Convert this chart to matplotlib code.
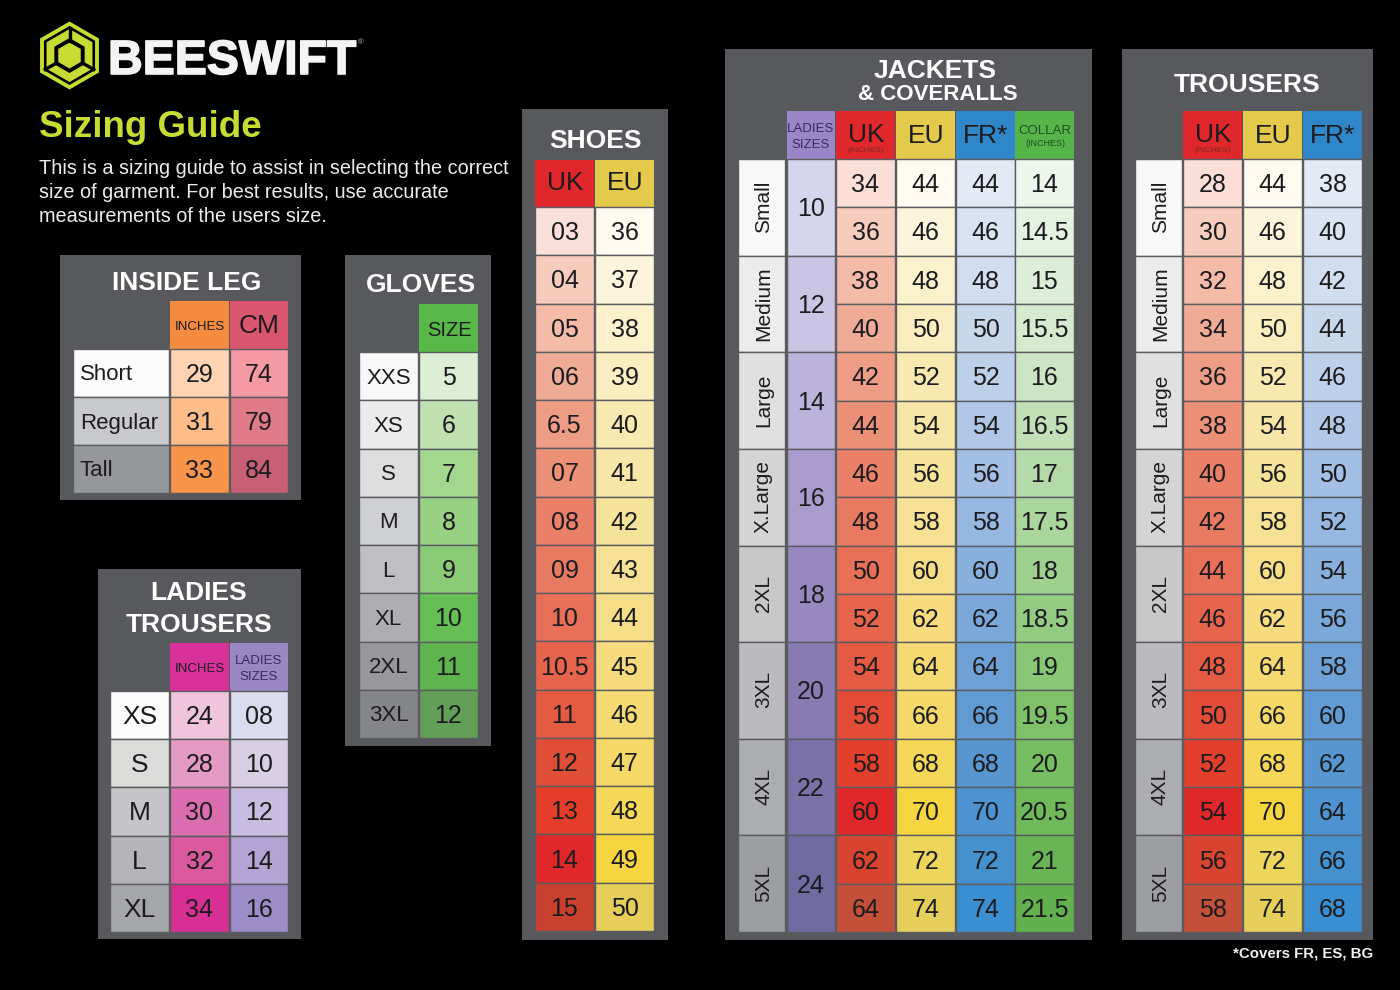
"""
plot.py
-------
Beeswift sizing guide, drawn as coloured tables on a pixel-sized axes.
"""
import numpy as np
import matplotlib
matplotlib.use("Agg")
import matplotlib.pyplot as plt
from matplotlib.colors import to_rgb, to_hex
from matplotlib.patches import Rectangle, Polygon
import matplotlib.patheffects as pe

plt.rcParams["font.family"] = ["Liberation Sans", "DejaVu Sans"]

# === Table contents ===
leg_labels = ["Short", "Regular", "Tall"]
leg_inches = ["29", "31", "33"]
leg_cm = ["74", "79", "84"]

glove_labels = ["XXS", "XS", "S", "M", "L", "XL", "2XL", "3XL"]
glove_sizes = ["5", "6", "7", "8", "9", "10", "11", "12"]

shoe_uk = ["03", "04", "05", "06", "6.5", "07", "08", "09", "10", "10.5", "11", "12", "13", "14", "15"]
shoe_eu = ["36", "37", "38", "39", "40", "41", "42", "43", "44", "45", "46", "47", "48", "49", "50"]

ladies_labels = ["XS", "S", "M", "L", "XL"]
ladies_inches = ["24", "28", "30", "32", "34"]
ladies_sizes = ["08", "10", "12", "14", "16"]

garment_labels = ["Small", "Medium", "Large", "X.Large", "2XL", "3XL", "4XL", "5XL"]
jacket_ladies = ["10", "12", "14", "16", "18", "20", "22", "24"]
jacket_uk = ["34", "36", "38", "40", "42", "44", "46", "48", "50", "52", "54", "56", "58", "60", "62", "64"]
jacket_eu = ["44", "46", "48", "50", "52", "54", "56", "58", "60", "62", "64", "66", "68", "70", "72", "74"]
jacket_fr = jacket_eu
jacket_collar = ["14", "14.5", "15", "15.5", "16", "16.5", "17", "17.5", "18", "18.5", "19", "19.5", "20", "20.5", "21", "21.5"]

trouser_uk = ["28", "30", "32", "34", "36", "38", "40", "42", "44", "46", "48", "50", "52", "54", "56", "58"]
trouser_eu = jacket_eu
trouser_fr = ["38", "40", "42", "44", "46", "48", "50", "52", "54", "56", "58", "60", "62", "64", "66", "68"]

body_lines = [
    "This is a sizing guide to assist in selecting the correct",
    "size of garment. For best results, use accurate",
    "measurements of the users size.",
]

# === Colours ===
BACK = "#000000"
PANEL = "#57595c"
LINE = "#5a5c60"
LIME = "#c8db33"
INK = "#1c1c1e"

SHOE_REDS = ["#fbe0da", "#f6ccbc", "#f3bba8", "#f0ab97", "#ee9c85", "#ec9078", "#ea8068", "#e87a62",
             "#e87058", "#e6654c", "#e45a42", "#e04e38", "#e43e2a", "#e0282a", "#c9402f"]
SHOE_YELLOWS = ["#fffbf0", "#fcf5dc", "#fbf1cd", "#faedc0", "#f8e9b0", "#f8e6a8", "#f6e39a", "#f6e194",
                "#f6de88", "#f6dc7e", "#f5da72", "#f5d968", "#f5d858", "#f5d640", "#e5ce5a"]
ROW_REDS = ["#fbdfd6", "#f6ccbc", "#f3bba8", "#f0ab97", "#ee9c85", "#ec9078", "#ea8068", "#e87a62",
            "#e87058", "#e6654c", "#e45a42", "#e34c36", "#e2402c", "#e0282a", "#d94430", "#c5503a"]
ROW_YELLOWS = ["#fffbf0", "#fcf5dc", "#fbf1cd", "#faedc0", "#f8e9b0", "#f8e6a8", "#f6e39a", "#f6e194",
               "#f6de88", "#f6dc7e", "#f5da72", "#f5d968", "#f5d858", "#f5d640", "#ecd75c", "#e5ce5a"]
BLUE_STOPS = ["#e4e9f6", "#c0d2ea", "#8fb3de", "#5f98d2", "#3b8ecf"]
GREEN_STOPS = ["#ecf6ea", "#cfe7c8", "#a4d295", "#7cc067", "#62b14e"]
PURPLE_STOPS = ["#d6d5ee", "#c1b9dd", "#9f90c6", "#8377ae", "#6f6aa0"]
GREY_STOPS = ["#f8f8f8", "#dcdcdc", "#c0c0c2", "#9d9ea0"]
GLOVE_GREYS = ["#f8f8f8", "#ebebec", "#dddddd", "#cfd0d2", "#bfbfc1", "#aeaeb0", "#98989a", "#858689"]
GLOVE_GREENS = ["#dcefd5", "#bfe0b0", "#a4d690", "#98d184", "#8bcb78", "#66bf55", "#5fb450", "#639f58"]


def ramp(stops, n):
    """Spreads n cell colours evenly along a list of colour stops."""
    rgb = np.array([to_rgb(c) for c in stops])
    pos = np.linspace(0, 1, len(stops))
    at = np.linspace(0, 1, n)
    return [to_hex([np.interp(a, pos, rgb[:, i]) for i in range(3)]) for a in at]


fig = plt.figure(figsize=(14, 9.9), dpi=100, facecolor=BACK)
ax = fig.add_axes([0, 0, 1, 1])
ax.set_xlim(0, 1400)
ax.set_ylim(990, 0)
ax.axis("off")


# === Drawing helpers ===
def box(x0, y0, x1, y1, color, edge=None):
    ax.add_patch(Rectangle((x0, y0), x1 - x0, y1 - y0, facecolor=color,
                           edgecolor=edge if edge else "none", linewidth=1 if edge else 0))


def label(x, y, text, size=18, color=INK, weight="normal", rotation=0, ha="center"):
    # rotated labels centre on their box, upright ones on the baseline
    va = "center" if rotation else "center_baseline"
    ax.text(x, y, text, fontsize=size, color=color, fontweight=weight, rotation=rotation,
            ha=ha, va=va)


def column(x0, x1, y0, y1, values, colors, size=18, rotation=0, ha="center"):
    """Draws one table column, the values sharing the full height evenly."""
    step = (y1 - y0) / len(values)
    for i, (val, col) in enumerate(zip(values, colors)):
        top = y0 + i * step
        box(x0, top, x1, top + step, col, edge=LINE)
        tx = (x0 + x1) / 2 + (2 if rotation else 0) if ha == "center" else x0 + 7
        label(tx, top + step / 2 - 0.5, val, size=size, rotation=rotation, ha=ha)


def header(x0, x1, y0, y1, color, text, size=19, sub=None, sub_color="#7a2a22"):
    box(x0, y0, x1, y1, color)
    mid = (x0 + x1) / 2 + 0.5
    if sub:
        label(mid, (y0 + y1) / 2 - 2, text, size=size)
        label(mid, y1 - 9, sub, size=6, color=sub_color)
    else:
        # the small captions sit a little lower than the big ones
        label(mid, (y0 + y1) / 2 + (1 if size < 15 else -1.5), text, size=size)


def title(x, y, text, size=19):
    label(x, y, text, size=size, color="white", weight="bold")


def draw_logo():
    cx, cy = 69.5, 55.5

    def hexagon(r, color):
        pts = [(cx + r * np.sin(a), cy - r * np.cos(a)) for a in np.arange(6) * np.pi / 3]
        ax.add_patch(Polygon(pts, closed=True, facecolor=color, edgecolor="none"))

    hexagon(34, LIME)
    hexagon(29.5, BACK)
    hexagon(26.5, LIME)
    # spokes split the inner ring into two panels and a lower chevron
    for a in (0, 2 * np.pi / 3, -2 * np.pi / 3):
        ax.plot([cx + 15 * np.sin(a), cx + 28 * np.sin(a)],
                [cy - 15 * np.cos(a), cy - 28 * np.cos(a)], color=BACK, lw=2.4)
    hexagon(17.5, BACK)
    hexagon(13, LIME)
    ax.text(108, 74, "BEESWIFT", fontsize=34.6, color="#f4f4f4", fontweight="bold",
            ha="left", va="baseline",
            path_effects=[pe.withStroke(linewidth=1.2, foreground="#f4f4f4")])
    ax.text(358, 43, "®", fontsize=5.5, color="#bbbbbb", ha="left", va="center")


# === Heading ===
draw_logo()
ax.text(39, 137, "Sizing Guide", fontsize=26.5, color=LIME, fontweight="bold", ha="left", va="baseline")
for line, y in zip(body_lines, [174, 198, 222]):
    ax.text(39, y, line, fontsize=14.3, color="#ececec", ha="left", va="baseline")

# === Inside leg ===
box(60, 255, 301, 500, PANEL)
title(187, 280, "INSIDE LEG")
header(170, 229, 301, 349, "#f58b3f", "INCHES", size=9.5)
header(230, 288, 301, 349, "#d9566f", "CM")
column(73, 169, 349, 493, leg_labels, ["#fbfbfb", "#c8c9ca", "#96979a"], size=16, ha="left")
column(170, 229, 349, 493, leg_inches, ["#fdd3b4", "#fdbc88", "#f8954a"])
column(230, 288, 349, 493, leg_cm, ["#f59aa3", "#df7b86", "#c75f75"])

# === Gloves ===
box(345, 255, 491, 746, PANEL)
title(421, 283, "GLOVES")
header(419, 478, 304, 352, "#58b848", "SIZE", size=14.5)
column(359, 418, 352, 738, glove_labels, GLOVE_GREYS, size=16)
column(419, 478, 352, 738, glove_sizes, GLOVE_GREENS)

# === Shoes ===
box(522, 109, 668, 940, PANEL)
title(595, 138, "SHOES")
box(535, 160, 594, 208, "#e0282c")
box(595, 160, 654, 208, "#e3c94c")
label(565, 181, "UK", size=19)
label(625, 181, "EU", size=19)
column(535, 594, 207, 931, shoe_uk, SHOE_REDS)
column(595, 654, 207, 931, shoe_eu, SHOE_YELLOWS)

# === Ladies trousers ===
box(98, 569, 301, 939, PANEL)
title(199, 591, "LADIES")
title(199, 622, "TROUSERS")
header(170, 229, 643, 691, "#d8329a", "INCHES", size=9.5)
box(230, 643, 288, 691, "#9a86c2")
label(259, 660, "LADIES", size=9.5, color="#3a2a60")
label(259, 676, "SIZES", size=9.5, color="#3a2a60")
column(110, 169, 691, 932, ladies_labels, ["#fbfbfb", "#dcdcda", "#c5c5c7", "#b5b5b7", "#a5a6a8"], size=19)
column(170, 229, 691, 932, ladies_inches, ["#efc4dd", "#e49ac5", "#d96db0", "#d9589f", "#d82f93"])
column(230, 288, 691, 932, ladies_sizes, ["#dcdcf0", "#d8cfe6", "#c8bde0", "#b3a4d3", "#9c8dc7"])

# === Jackets ===
box(725, 49, 1092, 940, PANEL)
title(935, 68, "JACKETS")
title(938, 92, "& COVERALLS", size=16)
box(787, 111, 835, 159, "#9a86c6")
label(811, 128, "LADIES", size=9.5, color="#3a2a60")
label(811, 143, "SIZES", size=9.5, color="#3a2a60")
header(836, 895, 111, 159, "#e0282c", "UK", sub="(INCHES)")
header(896, 955, 111, 159, "#e3c94c", "EU")
header(956, 1015, 111, 159, "#2f86c8", "FR*")
box(1015, 111, 1074, 159, "#55b548")
label(1045, 129, "COLLAR", size=9.5, color="#1f4f22")
label(1045, 142, "(INCHES)", size=6.5, color="#1f4f22")
column(738, 785, 159, 932, garment_labels, ramp(GREY_STOPS, 8), size=15, rotation=90)
column(787, 835, 159, 932, jacket_ladies, ramp(PURPLE_STOPS, 8))
column(836, 895, 159, 932, jacket_uk, ROW_REDS)
column(896, 955, 159, 932, jacket_eu, ROW_YELLOWS)
column(956, 1015, 159, 932, jacket_fr, ramp(BLUE_STOPS, 16))
column(1015, 1074, 159, 932, jacket_collar, ramp(GREEN_STOPS, 16))

# === Trousers ===
box(1122, 49, 1373, 940, PANEL)
title(1247, 83, "TROUSERS")
header(1183, 1242, 111, 159, "#e0282c", "UK", sub="(INCHES)")
header(1243, 1302, 111, 159, "#e3c94c", "EU")
header(1303, 1362, 111, 159, "#2f86c8", "FR*")
column(1135, 1182, 159, 932, garment_labels, ramp(GREY_STOPS, 8), size=15, rotation=90)
column(1183, 1242, 159, 932, trouser_uk, ROW_REDS)
column(1243, 1302, 159, 932, trouser_eu, ROW_YELLOWS)
column(1303, 1362, 159, 932, trouser_fr, ramp(BLUE_STOPS, 16))

ax.text(1373, 953, "*Covers FR, ES, BG", fontsize=10.8, color="#f0f0f0", fontweight="bold", ha="right", va="center")

fig.savefig("out.png", dpi=100, facecolor=BACK)
